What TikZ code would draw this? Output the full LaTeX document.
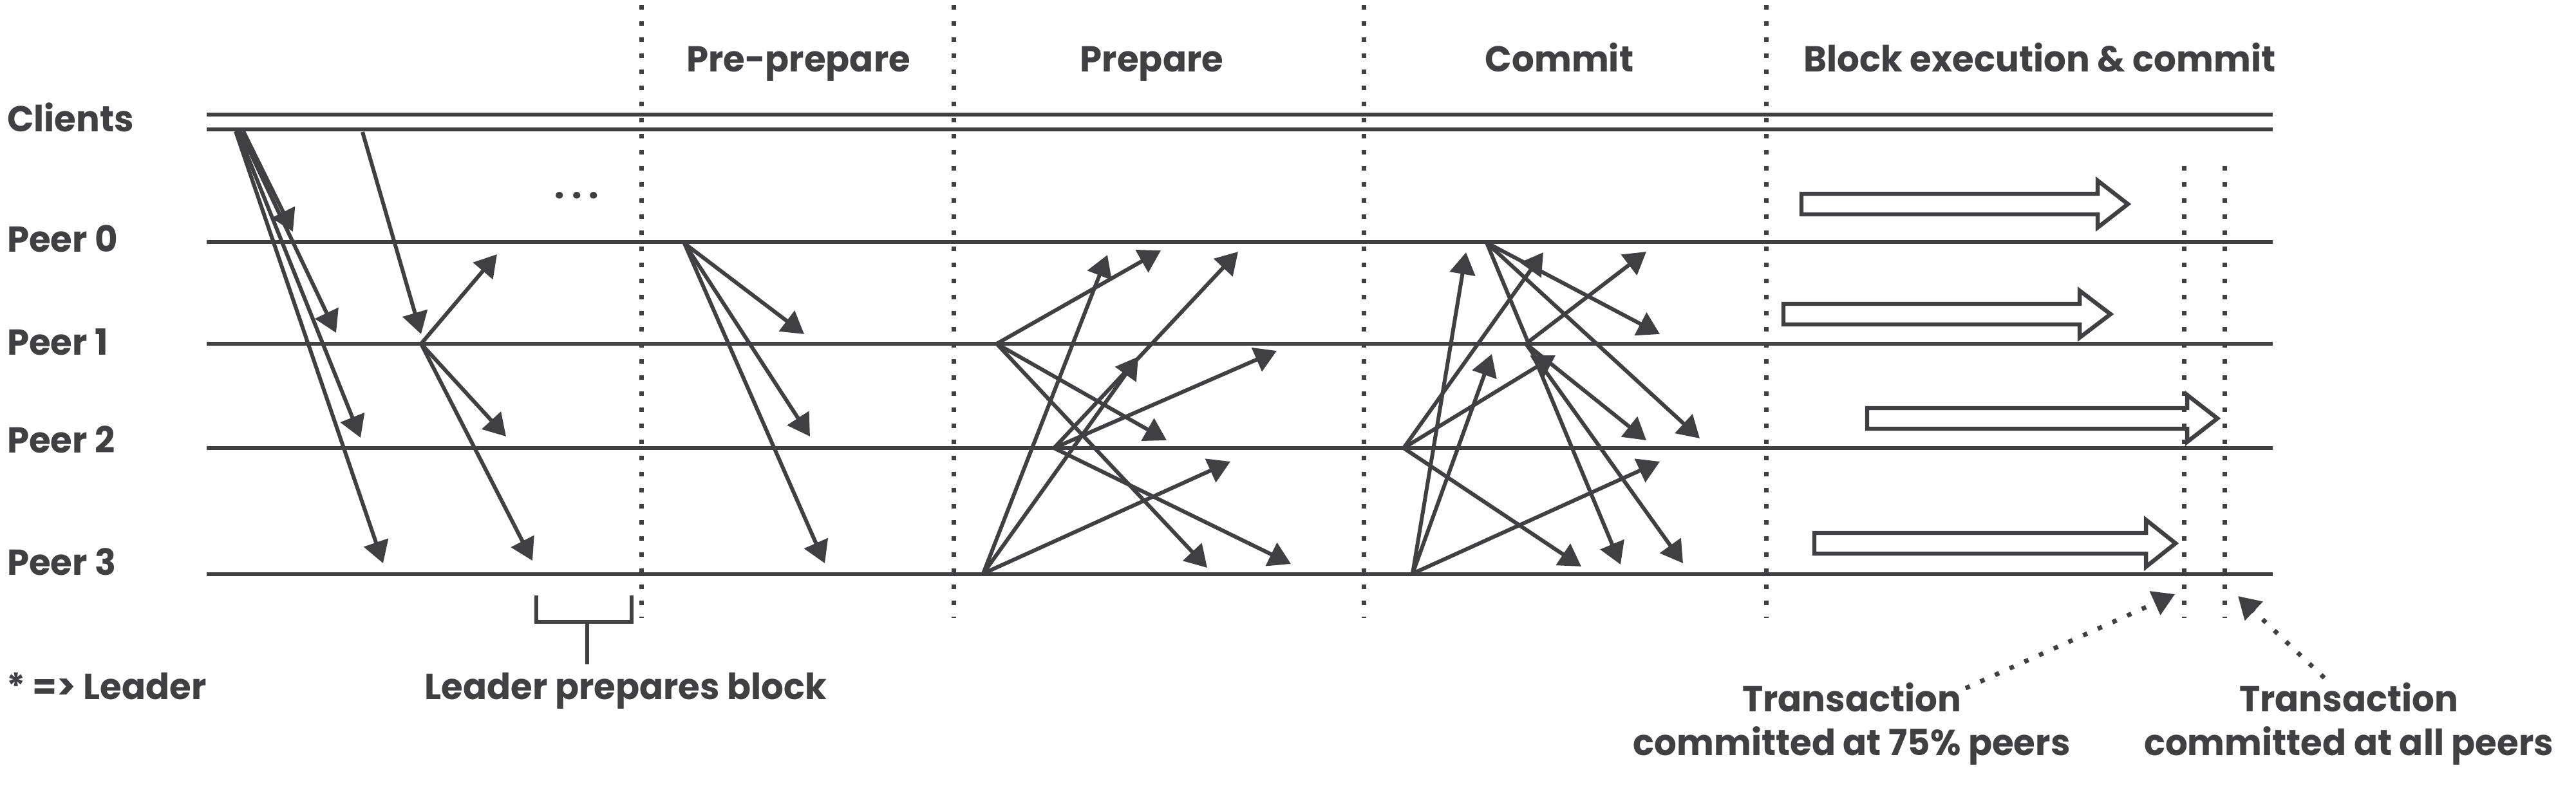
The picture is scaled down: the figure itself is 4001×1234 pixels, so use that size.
\documentclass[tikz,border=0pt]{standalone}
\usepackage{fontspec}
\setmainfont{Poppins}[FakeStretch=0.975]
\usetikzlibrary{arrows.meta}
\definecolor{ink}{RGB}{64,64,66}
\begin{document}
\begin{tikzpicture}[x=0.25pt,y=-0.25pt,
  every node/.style={inner sep=0pt, outer sep=0pt, text=ink, font=\fontsize{14pt}{17pt}\selectfont\bfseries},
  lane/.style={draw=ink, line width=1.6pt},
  msg/.style={draw=ink, line width=1.5pt, -{Triangle[length=8.5pt,width=9.8pt]}},
  phase/.style={draw=ink, line width=1.75pt, dash pattern=on 1.75pt off 4.5pt},
  pointer/.style={phase, -{Triangle[length=8.5pt,width=9.8pt]}},
  blockarrow/.style={draw=ink, line width=1.6pt, line join=miter},
  lbl/.style={anchor=base west},
  hdr/.style={anchor=base},
]
\fill[white] (0,0) rectangle (4001,1234);
\useasboundingbox (0,0) rectangle (4001,1234);

% ---- row labels
\node[lbl] (lclients) at (11,204) {Clients};
\node[lbl] (lp0) at (11,391) {Peer 0};
\node[lbl] (lp1) at (11,551) {Peer 1};
\node[lbl] (lp2) at (11,703) {Peer 2};
\node[lbl] (lp3) at (11,893) {Peer 3};

% ---- phase headers
\node[hdr] (hpp) at (1240,111) {Pre-prepare};
\node[hdr] (hpr) at (1789,111) {Prepare};
\node[hdr] (hcm) at (2422,111) {Commit};
\node[hdr] (hbe) at (3168,111) {Block execution \& commit};

% ---- lanes
\coordinate (ca) at (321,178); \coordinate (cae) at (3530,178);
\coordinate (cb) at (321,201); \coordinate (cbe) at (3530,201);
\coordinate (p0) at (321,376); \coordinate (p0e) at (3530,376);
\coordinate (p1) at (321,534); \coordinate (p1e) at (3530,534);
\coordinate (p2) at (321,696); \coordinate (p2e) at (3530,696);
\coordinate (p3) at (321,892); \coordinate (p3e) at (3530,892);
\draw[lane] (ca) -- (cae);
\draw[lane] (cb) -- (cbe);
\draw[lane] (p0) -- (p0e);
\draw[lane] (p1) -- (p1e);
\draw[lane] (p2) -- (p2e);
\draw[lane] (p3) -- (p3e);

% ---- phase separators
\foreach \n/\x in {s1/996,s2/1481,s3/2118,s4/2743}{
  \coordinate (\n t) at (\x,8); \coordinate (\n b) at (\x,960);
  \draw[phase] (\n t) -- (\n b);
}
\coordinate (m75t) at (3392,258); \coordinate (m75b) at (3392,960);
\coordinate (mallt) at (3455,258); \coordinate (mallb) at (3455,960);
\draw[phase] (m75t) -- (m75b);
\draw[phase] (mallt) -- (mallb);

% ---- client requests
\coordinate (ra) at (378,204); \coordinate (ra0) at (455,360);
\coordinate (rb) at (373,204); \coordinate (rb1) at (522,517);
\coordinate (rc) at (369,204); \coordinate (rc2) at (560,680);
\coordinate (rd) at (366,204); \coordinate (rd3) at (595,875);
\coordinate (re) at (563,205); \coordinate (re1) at (654,519);
\draw[msg] (ra) -- (ra0);
\draw[msg] (rb) -- (rb1);
\draw[msg] (rc) -- (rc2);
\draw[msg] (rd) -- (rd3);
\draw[msg] (re) -- (re1);

% ---- leader forwards
\coordinate (ld) at (654,534);
\coordinate (ld0) at (772,395);
\coordinate (ld2) at (786,678);
\coordinate (ld3) at (827,871);
\draw[msg] (ld) -- (ld0);
\draw[msg] (ld) -- (ld2);
\draw[msg] (ld) -- (ld3);

\node[anchor=base] (dots) at (896,308) {.\kern2.8pt.\kern2.8pt.};

% ---- pre-prepare
\coordinate (pp) at (1063,378);
\coordinate (pp1) at (1249,519);
\coordinate (pp2) at (1258,678);
\coordinate (pp3) at (1281,875);
\draw[msg] (pp) -- (pp1);
\draw[msg] (pp) -- (pp2);
\draw[msg] (pp) -- (pp3);

% ---- prepare
\coordinate (pr1) at (1548,534);
\coordinate (pr10) at (1803,389); \coordinate (pr12) at (1812,684); \coordinate (pr13) at (1875,882);
\coordinate (pr2) at (1637,696);
\coordinate (pr20) at (1923,391); \coordinate (pr21) at (1983,545); \coordinate (pr23) at (2005,876);
\coordinate (pr3) at (1527,891);
\coordinate (pr30) at (1720,396); \coordinate (pr31) at (1768,554); \coordinate (pr32) at (1911,717);
\foreach \s/\t in {pr1/pr10,pr1/pr12,pr1/pr13,pr2/pr20,pr2/pr21,pr2/pr23,pr3/pr30,pr3/pr31,pr3/pr32}
  \draw[msg] (\s) -- (\t);

% ---- commit
\coordinate (cm0) at (2309,377);
\coordinate (cm01) at (2578,519); \coordinate (cm02) at (2640,681); \coordinate (cm03) at (2517,877);
\coordinate (cm1) at (2370,534);
\coordinate (cm10) at (2557,391); \coordinate (cm12) at (2557,684); \coordinate (cm13) at (2614,875);
\coordinate (cm2) at (2180,696);
\coordinate (cm20) at (2397,392); \coordinate (cm21) at (2416,552); \coordinate (cm23) at (2456,880);
\coordinate (cm3) at (2194,891);
\coordinate (cm30) at (2277,392); \coordinate (cm31) at (2317,550); \coordinate (cm32) at (2578,717);
\foreach \s/\t in {cm0/cm01,cm0/cm02,cm0/cm03,cm1/cm10,cm1/cm12,cm1/cm13,cm2/cm20,cm2/cm21,cm2/cm23,cm3/cm30,cm3/cm31,cm3/cm32}
  \draw[msg] (\s) -- (\t);

% ---- block execution arrows
\foreach \l/\h/\t/\c in {2798/3258/3305/317, 2770/3230/3278/488, 2900/3397/3444/650, 2818/3333/3379/844}{
  \draw[blockarrow] (\l,\c-16) -- (\h,\c-16) -- (\h,\c-36.5) -- (\t,\c) -- (\h,\c+36.5) -- (\h,\c+16) -- (\l,\c+16) -- cycle;
}

% ---- bracket
\coordinate (bl) at (833,925); \coordinate (br) at (981,925);
\coordinate (bm) at (912,966); \coordinate (bs) at (912,1032);
\draw[lane, line join=miter] (bl) -- (833,966) -- (981,966) -- (br);
\draw[lane] (bm) -- (bs);

% ---- bottom texts
\node[lbl] (legend) at (10,1086) {* => Leader};
\node[anchor=base] (lpb) at (972,1086) {Leader prepares block};
\node[anchor=base] (t75a) at (2876,1105) {Transaction};
\node[anchor=base] (t75b) at (2876,1173) {committed at 75\% peers};
\node[anchor=base] (talla) at (3648,1105) {Transaction};
\node[anchor=base] (tallb) at (3648,1173) {committed at all peers};

% ---- pointers
\coordinate (q75) at (3053,1069); \coordinate (q75t) at (3378,923);
\coordinate (qall) at (3610,1053); \coordinate (qallt) at (3476,926);
\draw[pointer] (q75) -- (q75t);
\draw[pointer] (qall) -- (qallt);
\end{tikzpicture}
\end{document}
